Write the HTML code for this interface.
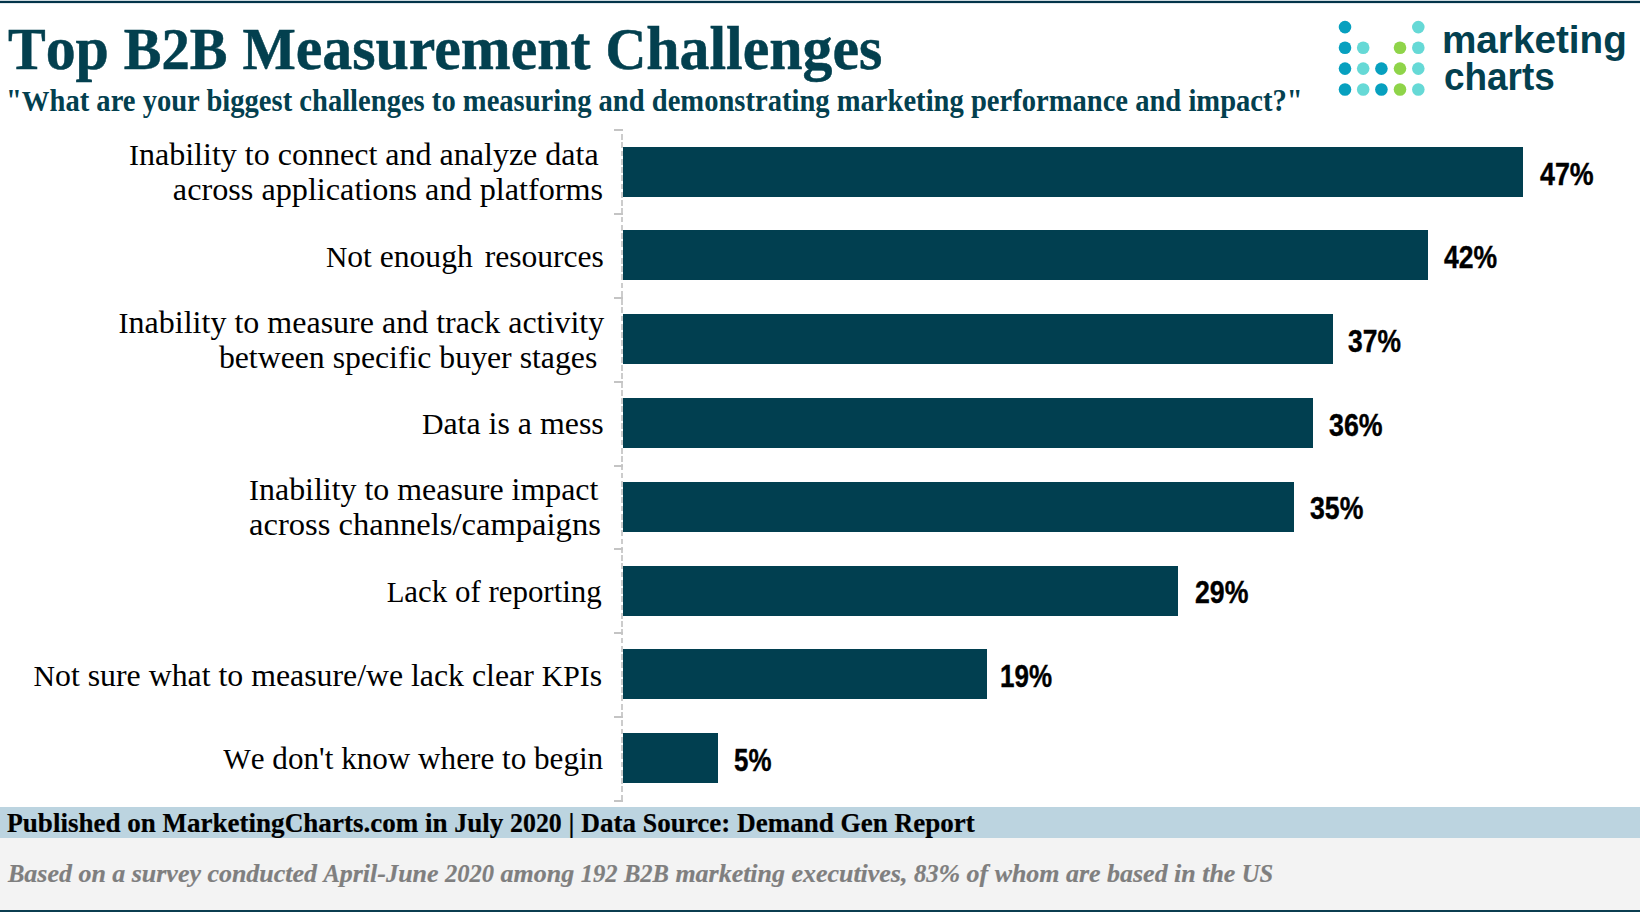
<!DOCTYPE html>
<html><head><meta charset="utf-8">
<style>
html,body{margin:0;padding:0;}
body{width:1640px;height:912px;position:relative;overflow:hidden;background:#fff;}
.t{position:absolute;white-space:nowrap;line-height:1;}
.bl{display:inline-block;width:0;height:0;vertical-align:baseline;}
#topline{position:absolute;left:0;top:0;width:1640px;height:4px;background:linear-gradient(to bottom,#cdd9df 0,#cdd9df 1px,#03344a 1px,#03344a 3px,#e4e9ec 3px,#e4e9ec 4px);}
.bar{position:absolute;left:623px;height:50px;background:#013f50;}
#axis{position:absolute;left:621px;top:134px;width:2px;height:666px;background:repeating-linear-gradient(to bottom,#cccccc 0,#cccccc 5.8px,transparent 5.8px,transparent 8.257px);}
.tick{position:absolute;left:614px;width:9px;height:2px;background:#c4c4c4;}
#fband{position:absolute;left:0;top:807px;width:1640px;height:31px;background:#bcd4e0;}
#gband{position:absolute;left:0;top:838px;width:1640px;height:72px;background:#f3f3f3;}
#botline{position:absolute;left:0;top:910px;width:1640px;height:2px;background:#0b3d50;}
</style></head>
<body>
<div id="topline"></div>
<div id="axis"></div>
<div class="tick" style="top:129.00px"></div>
<div class="tick" style="top:212.88px"></div>
<div class="tick" style="top:296.75px"></div>
<div class="tick" style="top:380.62px"></div>
<div class="tick" style="top:464.50px"></div>
<div class="tick" style="top:548.38px"></div>
<div class="tick" style="top:632.25px"></div>
<div class="tick" style="top:716.12px"></div>
<div class="tick" style="top:800.00px"></div>
<div class="bar" style="top:147px;width:900.00px"></div>
<div class="bar" style="top:230px;width:805.00px"></div>
<div class="bar" style="top:314px;width:710.00px"></div>
<div class="bar" style="top:398px;width:690.00px"></div>
<div class="bar" style="top:482px;width:671.00px"></div>
<div class="bar" style="top:566px;width:555.40px"></div>
<div class="bar" style="top:649px;width:363.80px"></div>
<div class="bar" style="top:733px;width:95.40px"></div>
<div id="fband"></div>
<div id="gband"></div>
<div id="botline"></div>
<svg class="logo" width="120" height="100" viewBox="1320 0 120 100" style="position:absolute;left:1320px;top:0">
<circle cx="1345.0" cy="27.1" r="6.3" fill="#07a0bf"/>
<circle cx="1418.3" cy="27.1" r="6.3" fill="#66d9d6"/>
<circle cx="1345.0" cy="47.8" r="6.3" fill="#07a0bf"/>
<circle cx="1363.2" cy="47.8" r="6.3" fill="#66d9d6"/>
<circle cx="1400.0" cy="47.8" r="6.3" fill="#8fd449"/>
<circle cx="1418.3" cy="47.8" r="6.3" fill="#66d9d6"/>
<circle cx="1345.0" cy="68.6" r="6.3" fill="#07a0bf"/>
<circle cx="1363.2" cy="68.6" r="6.3" fill="#66d9d6"/>
<circle cx="1381.4" cy="68.6" r="6.3" fill="#07a0bf"/>
<circle cx="1400.0" cy="68.6" r="6.3" fill="#8fd449"/>
<circle cx="1418.3" cy="68.6" r="6.3" fill="#66d9d6"/>
<circle cx="1345.0" cy="89.5" r="6.3" fill="#07a0bf"/>
<circle cx="1363.2" cy="89.5" r="6.3" fill="#66d9d6"/>
<circle cx="1381.4" cy="89.5" r="6.3" fill="#07a0bf"/>
<circle cx="1400.0" cy="89.5" r="6.3" fill="#8fd449"/>
<circle cx="1418.3" cy="89.5" r="6.3" fill="#66d9d6"/>
</svg>
<div class="t" id="title" style="left:8.20px;transform-origin:0 0;top:17.22px;font-family:'Liberation Serif',serif;font-weight:bold;font-style:normal;color:#03404f;font-size:62px;transform:scaleX(0.9654);-webkit-text-stroke:0.5px #03404f;"><span style="font-size:58.5px">T</span>op <span style="font-size:58.5px">B2B</span> <span style="font-size:58.5px">M</span>easurement <span style="font-size:58.5px">C</span>hallenges<span class="bl"></span></div>
<div class="t" id="sub" style="left:5.90px;transform-origin:0 0;top:85.51px;font-family:'Liberation Serif',serif;font-weight:bold;font-style:normal;color:#03404f;font-size:30.5px;transform:scaleX(0.9370);">"<span style="font-size:29.5px">W</span>hat are your biggest challenges to measuring and demonstrating marketing performance and impact?"<span class="bl"></span></div>
<div class="t" id="l1a" style="right:1041.60px;transform-origin:100% 0;top:139.01px;font-family:'Liberation Serif',serif;font-weight:normal;font-style:normal;color:#000;font-size:31px;transform:scaleX(1.0330);"><span style="font-size:29px">I</span>nability to connect and analyze data<span class="bl"></span></div>
<div class="t" id="l1b" style="right:1037.40px;transform-origin:100% 0;top:174.40px;font-family:'Liberation Serif',serif;font-weight:normal;font-style:normal;color:#000;font-size:31px;transform:scaleX(1.0390);">across applications and platforms<span class="bl"></span></div>
<div class="t" id="l2" style="right:1036.00px;transform-origin:100% 0;top:240.81px;font-family:'Liberation Serif',serif;font-weight:normal;font-style:normal;color:#000;font-size:31px;transform:scaleX(1.0184);"><span style="font-size:29px">N</span>ot enough<span style="display:inline-block;width:4px"></span> resources<span class="bl"></span></div>
<div class="t" id="l3a" style="right:1036.00px;transform-origin:100% 0;top:306.71px;font-family:'Liberation Serif',serif;font-weight:normal;font-style:normal;color:#000;font-size:31px;transform:scaleX(1.0327);"><span style="font-size:29px">I</span>nability to measure and track activity<span class="bl"></span></div>
<div class="t" id="l3b" style="right:1043.00px;transform-origin:100% 0;top:341.81px;font-family:'Liberation Serif',serif;font-weight:normal;font-style:normal;color:#000;font-size:31px;transform:scaleX(1.0247);">between specific buyer stages<span class="bl"></span></div>
<div class="t" id="l4" style="right:1036.40px;transform-origin:100% 0;top:408.31px;font-family:'Liberation Serif',serif;font-weight:normal;font-style:normal;color:#000;font-size:31px;transform:scaleX(1.0289);"><span style="font-size:29px">D</span>ata is a mess<span class="bl"></span></div>
<div class="t" id="l5a" style="right:1041.20px;transform-origin:100% 0;top:474.21px;font-family:'Liberation Serif',serif;font-weight:normal;font-style:normal;color:#000;font-size:31px;transform:scaleX(1.0293);"><span style="font-size:29px">I</span>nability to measure impact<span class="bl"></span></div>
<div class="t" id="l5b" style="right:1039.00px;transform-origin:100% 0;top:509.21px;font-family:'Liberation Serif',serif;font-weight:normal;font-style:normal;color:#000;font-size:31px;transform:scaleX(1.0506);">across channels/campaigns<span class="bl"></span></div>
<div class="t" id="l6" style="right:1038.60px;transform-origin:100% 0;top:575.81px;font-family:'Liberation Serif',serif;font-weight:normal;font-style:normal;color:#000;font-size:31px;transform:scaleX(0.9967);"><span style="font-size:29px">L</span>ack of reporting<span class="bl"></span></div>
<div class="t" id="l7" style="right:1037.60px;transform-origin:100% 0;top:659.60px;font-family:'Liberation Serif',serif;font-weight:normal;font-style:normal;color:#000;font-size:31px;transform:scaleX(1.0261);"><span style="font-size:29px">N</span>ot sure what to measure/we lack clear <span style="font-size:29px">KPI</span>s<span class="bl"></span></div>
<div class="t" id="l8" style="right:1036.40px;transform-origin:100% 0;top:743.31px;font-family:'Liberation Serif',serif;font-weight:normal;font-style:normal;color:#000;font-size:31px;transform:scaleX(1.0046);"><span style="font-size:29px">W</span>e don't know where to begin<span class="bl"></span></div>
<div class="t" id="pub" style="left:6.60px;transform-origin:0 0;top:809.20px;font-family:'Liberation Serif',serif;font-weight:bold;font-style:normal;color:#000;font-size:27.5px;transform:scaleX(0.9832);-webkit-text-stroke:0.2px #000;"><span style="font-size:26.3px">P</span>ublished on <span style="font-size:26.3px">M</span>arketing<span style="font-size:26.3px">C</span>harts.com in <span style="font-size:26.3px">J</span>uly <span style="font-size:26.3px">2020</span> | <span style="font-size:26.3px">D</span>ata <span style="font-size:26.3px">S</span>ource: <span style="font-size:26.3px">D</span>emand <span style="font-size:26.3px">G</span>en <span style="font-size:26.3px">R</span>eport<span class="bl"></span></div>
<div class="t" id="note" style="left:7.60px;transform-origin:0 0;top:860.81px;font-family:'Liberation Serif',serif;font-weight:bold;font-style:italic;color:#7f7f7f;font-size:26px;transform:scaleX(0.9978);-webkit-text-stroke:0.2px #7f7f7f;"><span style="font-size:24.6px">B</span>ased on a survey conducted <span style="font-size:24.6px">A</span>pril-<span style="font-size:24.6px">J</span>une <span style="font-size:24.6px">2020</span> among <span style="font-size:24.6px">192</span> <span style="font-size:24.6px">B2B</span> marketing executives, <span style="font-size:24.6px">83</span>% of whom are based in the <span style="font-size:24.6px">US</span><span class="bl"></span></div>
<div class="t" id="mc1" style="left:1442.00px;transform-origin:0 0;top:20.60px;font-family:'Liberation Sans',sans-serif;font-weight:bold;font-style:normal;color:#03404f;font-size:38px;transform:scaleX(1.0172);">marketing<span class="bl"></span></div>
<div class="t" id="mc2" style="left:1444.40px;transform-origin:0 0;top:58.41px;font-family:'Liberation Sans',sans-serif;font-weight:bold;font-style:normal;color:#03404f;font-size:38px;transform:scaleX(0.9714);">charts<span class="bl"></span></div>
<div class="t" id="v1" style="left:1540.00px;transform-origin:0 0;top:158.51px;font-family:'Liberation Sans',sans-serif;font-weight:bold;font-style:normal;color:#000;font-size:31.5px;transform:scaleX(0.8515);-webkit-text-stroke:0.4px #000;">47%<span class="bl"></span></div>
<div class="t" id="v2" style="left:1444.40px;transform-origin:0 0;top:242.24px;font-family:'Liberation Sans',sans-serif;font-weight:bold;font-style:normal;color:#000;font-size:31.5px;transform:scaleX(0.8426);-webkit-text-stroke:0.4px #000;">42%<span class="bl"></span></div>
<div class="t" id="v3" style="left:1348.40px;transform-origin:0 0;top:325.99px;font-family:'Liberation Sans',sans-serif;font-weight:bold;font-style:normal;color:#000;font-size:31.5px;transform:scaleX(0.8390);-webkit-text-stroke:0.4px #000;">37%<span class="bl"></span></div>
<div class="t" id="v4" style="left:1329.00px;transform-origin:0 0;top:409.72px;font-family:'Liberation Sans',sans-serif;font-weight:bold;font-style:normal;color:#000;font-size:31.5px;transform:scaleX(0.8492);-webkit-text-stroke:0.4px #000;">36%<span class="bl"></span></div>
<div class="t" id="v5" style="left:1309.80px;transform-origin:0 0;top:493.47px;font-family:'Liberation Sans',sans-serif;font-weight:bold;font-style:normal;color:#000;font-size:31.5px;transform:scaleX(0.8461);-webkit-text-stroke:0.4px #000;">35%<span class="bl"></span></div>
<div class="t" id="v6" style="left:1195.00px;transform-origin:0 0;top:577.20px;font-family:'Liberation Sans',sans-serif;font-weight:bold;font-style:normal;color:#000;font-size:31.5px;transform:scaleX(0.8463);-webkit-text-stroke:0.4px #000;">29%<span class="bl"></span></div>
<div class="t" id="v7" style="left:1000.40px;transform-origin:0 0;top:660.95px;font-family:'Liberation Sans',sans-serif;font-weight:bold;font-style:normal;color:#000;font-size:31.5px;transform:scaleX(0.8255);-webkit-text-stroke:0.4px #000;">19%<span class="bl"></span></div>
<div class="t" id="v8" style="left:734.40px;transform-origin:0 0;top:744.68px;font-family:'Liberation Sans',sans-serif;font-weight:bold;font-style:normal;color:#000;font-size:31.5px;transform:scaleX(0.8221);-webkit-text-stroke:0.4px #000;">5%<span class="bl"></span></div>
</body></html>
